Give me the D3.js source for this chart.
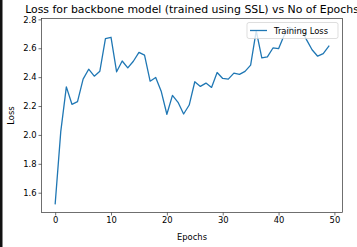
<!DOCTYPE html>
<html><head><meta charset="utf-8">
<script src="https://cdn.jsdelivr.net/npm/d3@7"></script>
<style>body{margin:0;background:#fff}svg{display:block}text{font-family:"DejaVu Sans",sans-serif;fill:#000}</style>
</head><body>
<script>
const epochs = d3.range(0, 50);
const trainingLoss = [
 1.524, 2.023, 2.333, 2.212, 2.230, 2.386, 2.455, 2.407, 2.441, 2.667,
 2.676, 2.437, 2.512, 2.464, 2.510, 2.572, 2.552, 2.372, 2.398, 2.300,
 2.143, 2.274, 2.226, 2.145, 2.207, 2.368, 2.336, 2.359, 2.329, 2.432,
 2.391, 2.386, 2.428, 2.419, 2.440, 2.483, 2.720, 2.533, 2.540, 2.602,
 2.597, 2.690, 2.745, 2.720, 2.735, 2.660, 2.590, 2.545, 2.563, 2.614];
const xTicks = [0, 10, 20, 30, 40, 50];
const yTicks = [1.6, 1.8, 2.0, 2.2, 2.4, 2.6, 2.8];
const titleText = "Loss for backbone model (trained using SSL) vs No of Epochs";
const xLabel = "Epochs", yLabel = "Loss", seriesName = "Training Loss";

const W = 357, H = 247;
const m = {left: 41.5, right: 342.5, top: 18.5, bottom: 212.5};
const svg = d3.select("body").append("svg").attr("width", W).attr("height", H);
svg.append("rect").attr("width", W).attr("height", H).attr("fill", "#fff");
svg.append("rect").attr("x", 0).attr("y", 0).attr("width", 2.5).attr("height", H).attr("fill", "#111");

const x = d3.scaleLinear().domain([-2.45, 51.45]).range([m.left, m.right]);
const ext = d3.extent(trainingLoss), pad = (ext[1] - ext[0]) * 0.05;
const y = d3.scaleLinear().domain([ext[0] - pad, ext[1] + pad]).range([m.bottom, m.top]);

const line = d3.line().x((d, i) => x(epochs[i])).y(d => y(d));
svg.append("path").datum(trainingLoss).attr("d", line)
  .attr("fill", "none").attr("stroke", "#1f77b4").attr("stroke-width", 1.3)
  .attr("stroke-linejoin", "round").attr("stroke-linecap", "square");

const fs = 8.4;
const xAxis = svg.append("g").attr("transform", `translate(0,${m.bottom})`)
  .call(d3.axisBottom(x).tickValues(xTicks).tickSize(3).tickPadding(2).tickFormat(d3.format("d")));
const yAxis = svg.append("g").attr("transform", `translate(${m.left},0)`)
  .call(d3.axisLeft(y).tickValues(yTicks).tickSize(3).tickPadding(2).tickFormat(d3.format(".1f")));
[xAxis, yAxis].forEach(g => {
  g.select(".domain").remove();
  g.selectAll("line").attr("stroke", "#333").attr("stroke-width", 0.7);
  g.selectAll("text").attr("font-size", fs).attr("font-family", "DejaVu Sans").attr("fill", "#000");
});

svg.append("rect").attr("x", m.left).attr("y", m.top).attr("width", m.right - m.left)
  .attr("height", m.bottom - m.top).attr("fill", "none").attr("stroke", "#333").attr("stroke-width", 0.7);

// legend
const lg = svg.append("g");
lg.append("rect").attr("x", 247).attr("y", 22.5).attr("width", 91).attr("height", 16)
  .attr("rx", 2).attr("fill", "#fff").attr("fill-opacity", 0.8).attr("stroke", "#d0d0d0").attr("stroke-width", 0.7);
lg.append("line").attr("x1", 250).attr("x2", 267).attr("y1", 30.5).attr("y2", 30.5)
  .attr("stroke", "#1f77b4").attr("stroke-width", 1.3);
lg.append("text").attr("x", 274).attr("y", 33.5).attr("font-size", fs).text(seriesName);

svg.append("text").attr("x", (m.left + m.right) / 2).attr("y", 12.5).attr("text-anchor", "middle")
  .attr("font-size", 10.9).text(titleText);
svg.append("text").attr("x", (m.left + m.right) / 2).attr("y", 240).attr("text-anchor", "middle")
  .attr("font-size", fs).text(xLabel);
svg.append("text").attr("transform", `translate(13.5,${(m.top + m.bottom) / 2}) rotate(-90)`)
  .attr("text-anchor", "middle").attr("font-size", fs).text(yLabel);
</script>
</body></html>
